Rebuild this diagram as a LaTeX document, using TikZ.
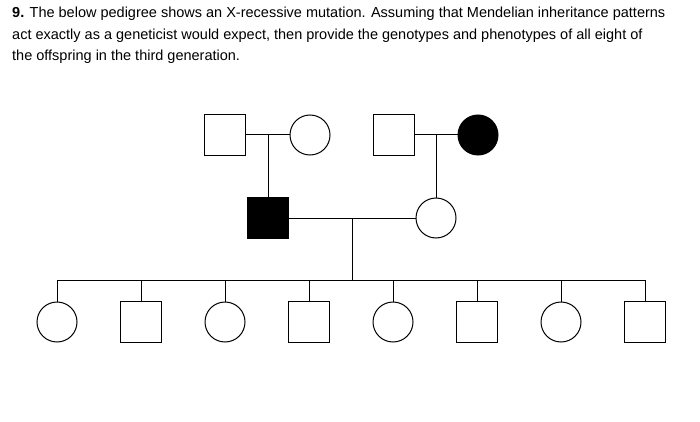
\documentclass[tikz,border=0pt]{standalone}
\usepackage{fontspec}
\setmainfont{Liberation Sans}
\begin{document}
\begin{tikzpicture}[x=1pt,y=-1pt,
  sq/.style={draw,line width=1pt,minimum size=41pt,inner sep=0pt},
  ci/.style={draw,circle,line width=1pt,minimum size=40pt,inner sep=0pt},
  ln/.style={line width=1pt}]
\useasboundingbox (0,0) rectangle (700,422);
\node[anchor=north west,align=left,inner sep=0pt,font=\fontsize{14.5}{21.5}\selectfont] (t) at (12,7)
{\textbf{9.} The below pedigree shows an X-recessive mutation. Assuming that Mendelian inheritance patterns\\
act exactly as a geneticist would expect, then provide the genotypes and phenotypes of all eight of\\
the offspring in the third generation.};
\node[sq] (a) at (225,135) {};
\node[ci] (b) at (310,135) {};
\node[sq] (c) at (394,135) {};
\node[ci,fill=black] (d) at (478,135) {};
\node[sq,fill=black] (e) at (268,218) {};
\node[ci] (f) at (436,218) {};
\draw[ln] (a.east) -- (b.west);
\draw[ln] (c.east) -- (d.west);
\coordinate (m1) at (268,135);
\coordinate (m2) at (436,135);
\draw[ln] (m1) -- (e.north);
\draw[ln] (m2) -- (f.north);
\draw[ln] (e.east) -- (f.west);
\coordinate (m3) at (352,218);
\coordinate (s) at (352,280);
\draw[ln] (m3) -- (s);
\coordinate (l) at (57,280);
\coordinate (r) at (645,280);
\draw[ln] (l) -- (r);
\foreach \x/\t [count=\i] in {57/ci,141/sq,225/ci,309/sq,393/ci,477/sq,561/ci,645/sq}{
  \node[\t] (k\i) at (\x,322) {};
  \coordinate (h\i) at (\x,280);
  \draw[ln] (h\i) -- (k\i.north);
}
\end{tikzpicture}
\end{document}
